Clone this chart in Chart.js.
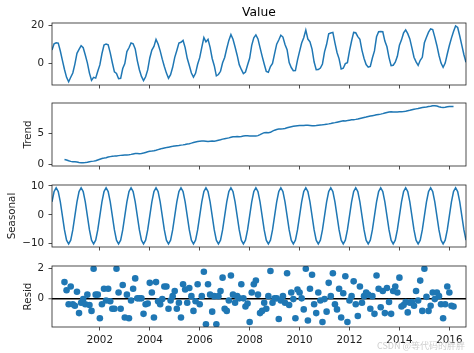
<!DOCTYPE html>
<html>
<head>
<meta charset="utf-8">
<script src="https://cdn.jsdelivr.net/npm/chart.js@4.4.0/dist/chart.umd.min.js"></script>
<style>
html,body{margin:0;padding:0;background:#fff;width:474px;height:353px;overflow:hidden;position:relative;}
canvas{position:absolute;left:0;}
#wm{position:absolute;left:377px;top:339px;font:9px "Noto Sans CJK SC","DejaVu Sans",sans-serif;color:#cfcfcf;white-space:nowrap;}
</style>
</head>
<body>
<canvas id="c1"></canvas>
<canvas id="c2"></canvas>
<canvas id="c3"></canvas>
<canvas id="c4"></canvas>
<div id="wm">CSDN @等代码的胖胖</div>
<script>
// ---------------- data ----------------
// monthly series, first observation = end of Jan 2000 (200 months, to Aug 2016)
const startYear = 2000;
const xTickYears = [2002, 2004, 2006, 2008, 2010, 2012, 2014, 2016];
const valueTicks = [0, 20];
const trendTicks = [0, 5];
const seasonalTicks = [-10, 0, 10];
const residTicks = [0, 2];
const trendStartIndex = 6; // trend / resid start in Jul 2000

const observed = [
  7.0, 10.3, 10.9, 10.7, 6.5, 1.5, -3.34, -7.52, -9.9, -7.5, -5.2, -0.48,
  5.28, 7.33, 9.29, 8.22, 4.35, 0.2, -5.27, -9.15, -7.56, -7.95, -4.27, -0.9,
  5.02, 9.68, 10.25, 9.85, 5.52, 0.23, -4.6, -5.42, -8.27, -8.03, -2.85, -0.18,
  6.22, 8.22, 10.78, 10.35, 7.57, 1.39, -3.5, -7.03, -9.3, -7.25, -3.55, 2.78,
  7.02, 8.93, 12.7, 10.2, 6.55, 2.15, -1.78, -5.27, -8.0, -6.08, -2.17, 3.1,
  6.79, 10.77, 11.13, 12.12, 8.28, 2.61, -1.18, -5.2, -7.4, -5.37, -0.59, 2.97,
  8.4, 13.61, 11.32, 12.68, 8.47, 2.5, -1.33, -6.72, -6.02, -4.3, 0.25, 3.07,
  7.83, 12.15, 15.25, 12.72, 8.65, 4.26, -0.78, -3.32, -5.5, -4.72, -0.97, 2.62,
  9.47, 13.55, 15.1, 12.92, 8.28, 3.75, -0.4, -4.33, -4.82, -1.75, -0.15, 5.15,
  10.12, 12.33, 14.9, 13.92, 9.98, 7.23, 0.33, -2.3, -3.98, -3.92, 1.62, 6.29,
  10.75, 13.55, 17.63, 12.85, 11.41, 7.47, 0.62, -3.5, -3.35, -2.55, -0.42, 6.02,
  10.07, 15.62, 16.08, 16.4, 10.82, 5.7, 2.33, -3.1, -2.68, -0.25, 0.25, 6.62,
  11.82, 16.4, 16.2, 14.17, 12.7, 6.83, 2.5, -0.73, -2.1, -1.67, 2.8, 6.52,
  14.05, 16.75, 16.85, 16.73, 11.78, 8.72, 3.0, -1.32, -1.09, 0.5, 3.66, 9.53,
  12.43, 16.12, 17.68, 15.75, 12.92, 8.2, 3.18, 0.7, -1.18, 1.55, 3.13, 10.87,
  13.86, 16.52, 18.23, 17.9, 13.91, 9.45, 4.25, 0.07, -2.22, 0.05, 4.88, 9.39,
  13.35, 16.85, 19.8, 19.0, 14.5, 9.5, 4.5, 0.5
];

const trend = [
  0.76, 0.68, 0.55, 0.45, 0.40, 0.37,
  0.33, 0.28, 0.24, 0.22, 0.25, 0.30, 0.38, 0.45, 0.49, 0.55, 0.68, 0.80,
  0.92, 0.98, 1.05, 1.15, 1.22, 1.28, 1.30, 1.33, 1.38, 1.42, 1.45, 1.47,
  1.47, 1.52, 1.58, 1.65, 1.72, 1.74, 1.70, 1.72, 1.80, 1.90, 2.00, 2.08,
  2.12, 2.18, 2.25, 2.35, 2.45, 2.55, 2.62, 2.68, 2.75, 2.82, 2.88, 2.95,
  2.99, 3.02, 3.08, 3.12, 3.18, 3.26, 3.32, 3.40, 3.50, 3.58, 3.66, 3.72,
  3.75, 3.76, 3.72, 3.68, 3.72, 3.75, 3.72, 3.78, 3.88, 3.95, 4.05, 4.12,
  4.18, 4.25, 4.35, 4.42, 4.45, 4.46, 4.42, 4.48, 4.55, 4.58, 4.58, 4.57,
  4.57, 4.55, 4.55, 4.62, 4.78, 4.95, 5.10, 5.12, 5.08, 5.15, 5.35, 5.50,
  5.62, 5.68, 5.70, 5.72, 5.78, 5.88, 5.98, 6.05, 6.12, 6.18, 6.22, 6.24,
  6.25, 6.25, 6.28, 6.30, 6.26, 6.22, 6.22, 6.25, 6.30, 6.35, 6.38, 6.42,
  6.47, 6.52, 6.58, 6.65, 6.72, 6.80, 6.88, 6.95, 7.02, 7.00, 7.05, 7.12,
  7.17, 7.20, 7.25, 7.32, 7.40, 7.48, 7.55, 7.62, 7.70, 7.78, 7.85, 7.92,
  8.00, 8.05, 8.10, 8.18, 8.28, 8.37, 8.45, 8.48, 8.46, 8.45, 8.46, 8.48,
  8.48, 8.52, 8.58, 8.65, 8.72, 8.80, 8.88, 8.95, 9.02, 9.10, 9.18, 9.22,
  9.26, 9.32, 9.38, 9.45, 9.46, 9.40, 9.30, 9.22, 9.18, 9.20, 9.28, 9.34,
  9.35, 9.35
];

const seasonal = [
  4.5, 8.05, 9.35, 8.05, 4.5, -0.35, -5.2, -8.75, -10.05, -8.75, -5.2, -0.35,
  4.5, 8.05, 9.35, 8.05, 4.5, -0.35, -5.2, -8.75, -10.05, -8.75, -5.2, -0.35,
  4.5, 8.05, 9.35, 8.05, 4.5, -0.35, -5.2, -8.75, -10.05, -8.75, -5.2, -0.35,
  4.5, 8.05, 9.35, 8.05, 4.5, -0.35, -5.2, -8.75, -10.05, -8.75, -5.2, -0.35,
  4.5, 8.05, 9.35, 8.05, 4.5, -0.35, -5.2, -8.75, -10.05, -8.75, -5.2, -0.35,
  4.5, 8.05, 9.35, 8.05, 4.5, -0.35, -5.2, -8.75, -10.05, -8.75, -5.2, -0.35,
  4.5, 8.05, 9.35, 8.05, 4.5, -0.35, -5.2, -8.75, -10.05, -8.75, -5.2, -0.35,
  4.5, 8.05, 9.35, 8.05, 4.5, -0.35, -5.2, -8.75, -10.05, -8.75, -5.2, -0.35,
  4.5, 8.05, 9.35, 8.05, 4.5, -0.35, -5.2, -8.75, -10.05, -8.75, -5.2, -0.35,
  4.5, 8.05, 9.35, 8.05, 4.5, -0.35, -5.2, -8.75, -10.05, -8.75, -5.2, -0.35,
  4.5, 8.05, 9.35, 8.05, 4.5, -0.35, -5.2, -8.75, -10.05, -8.75, -5.2, -0.35,
  4.5, 8.05, 9.35, 8.05, 4.5, -0.35, -5.2, -8.75, -10.05, -8.75, -5.2, -0.35,
  4.5, 8.05, 9.35, 8.05, 4.5, -0.35, -5.2, -8.75, -10.05, -8.75, -5.2, -0.35,
  4.5, 8.05, 9.35, 8.05, 4.5, -0.35, -5.2, -8.75, -10.05, -8.75, -5.2, -0.35,
  4.5, 8.05, 9.35, 8.05, 4.5, -0.35, -5.2, -8.75, -10.05, -8.75, -5.2, -0.35,
  4.5, 8.05, 9.35, 8.05, 4.5, -0.35, -5.2, -8.75, -10.05, -8.75, -5.2, -0.35,
  4.5, 8.05, 9.35, 8.05, 4.5, -0.35, -5.2, -8.75
];

const resid = [
  1.1, 0.55, -0.4, 0.8, -0.4, -0.5,
  0.45, -1.0, -0.3, -0.05, -0.4, 0.25, -0.45, -0.85, 2.0, 0.25, 0.25, -1.35,
  -0.4, 0.65, -0.15, 0.65, -0.2, -0.7, -0.7, 2.0, 0.4, -0.7, 0.9, -1.3,
  0.25, -1.35, -0.15, 0.65, 1.35, 0, 0, 0, -1.05, -0.4, -0.35, 1.05,
  0.4, -1.3, 1.1, -0.2, -0.4, -0.05, 0.8, 0.8, -0.7, -0.15, 0.15, 0.5,
  -0.7, -0.3, -1.3, 0.95, 0.6, -0.3, 0.7, 0.15, -0.85, -0.2, 0.95, -0.4,
  0.15, 1.8, -1.75, 0.95, 0.25, -0.9, 0.15, -1.75, 0.15, 0.5, 1.4, -0.7,
  -0.85, -0.15, 1.55, 0.25, -0.3, 0.15, 0, 0.95, 0, -0.55, -0.35, -1.6,
  0.4, 0.95, 1.2, 0.25, -1.0, -0.85, -0.3, -0.7, 0.15, 1.85, -0.3, 0,
  0, -1.4, -0.15, 0.15, -0.3, 1.7, -0.45, 0.4, -0.05, -1.35, 0.6, 0.4,
  0, -0.75, 2.0, -1.5, 0.65, 1.6, -0.4, -1.0, 0.4, -0.15, -1.6, -0.05,
  -0.9, 1.05, 0.15, 1.7, -0.4, -0.75, 0.65, -1.3, 0.35, 1.5, -1.6, -0.15,
  0.15, 1.15, -0.4, -1.2, 0.8, -0.3, 0.15, 0.4, 0.25, -0.7, 0.15, -1.05,
  1.55, 0.65, -0.6, 0.5, -1.0, 0.7, -0.25, -1.05, 0.5, 0.8, 0.4, 1.4,
  -0.55, -0.45, -0.25, -0.95, -0.3, -0.25, -0.5, 0.5, -0.15, 1.2, -0.85, 2.0,
  0.1, -0.85, -0.5, 0.4, -0.05, 0.4, 0.15, -0.4, -1.35, -0.4, 0.8, 0.4,
  -0.5, -0.55
];

// ---------------- chart ----------------
const BLUE = '#1f77b4';
const AXC = '#222222';
const FONT = 'DejaVu Sans';
Chart.defaults.font.family = FONT;
Chart.defaults.color = AXC;

// month axis: decimal year of each month end
const monthX = observed.map((_, i) => startYear + (i + 1) / 12);
const xMin = monthX[0];
const xMax = monthX[monthX.length - 1];
const toPts = (vals, off) => vals.map((v, i) => ({ x: monthX[i + off], y: v }));
const minus = v => String(v).replace('-', '\u2212');

const framePlugin = {
  id: 'frame',
  afterDraw(chart) {
    const { ctx, chartArea: a } = chart;
    ctx.save();
    ctx.strokeStyle = AXC;
    ctx.lineWidth = 0.8;
    ctx.strokeRect(a.left, a.top, a.right - a.left, a.bottom - a.top);
    const t = chart.options.plugins.panelTitle;
    if (t && t.text) {
      ctx.fillStyle = '#000';
      ctx.font = '12.3px "' + FONT + '"';
      ctx.textAlign = 'center';
      ctx.textBaseline = 'middle';
      ctx.fillText(t.text, (a.left + a.right) / 2, t.y);
    }
    ctx.restore();
  }
};

function makePanel(cfg) {
  const cv = document.getElementById(cfg.id);
  const h = cfg.padTop + (cfg.bottom - cfg.top) + cfg.bottomSpace;
  cv.width = 474; cv.height = h;
  cv.style.width = '474px'; cv.style.height = h + 'px';
  cv.style.top = (cfg.top - cfg.padTop) + 'px';
  const isScatter = cfg.kind === 'scatter';
  new Chart(cv, {
    type: isScatter ? 'scatter' : 'line',
    data: {
      datasets: [{
        data: cfg.points,
        borderColor: BLUE,
        backgroundColor: BLUE,
        borderWidth: isScatter ? 0 : 1.5,
        pointRadius: isScatter ? 3.3 : 0,
        pointHoverRadius: isScatter ? 3.3 : 0,
        tension: 0,
        showLine: !isScatter
      }]
    },
    options: {
      responsive: false, animation: false, devicePixelRatio: 1,
      layout: { padding: { left: 0, right: 8, top: cfg.padTop, bottom: 0 } },
      plugins: {
        legend: { display: false }, tooltip: { enabled: false }, title: { display: false },
        panelTitle: cfg.title ? { text: cfg.title, y: 12.5 } : {}
      },
      scales: {
        x: {
          type: 'linear', min: xMin, max: xMax,
          afterFit: s => { s.height = cfg.bottomSpace; },
          afterBuildTicks: s => { s.ticks = xTickYears.map(v => ({ value: v })); },
          ticks: { display: !!cfg.showX, font: { size: 10.3 }, color: AXC, padding: 3.5,
                   maxRotation: 0, autoSkip: false, callback: v => String(v) },
          grid: { drawOnChartArea: false, drawTicks: true, tickLength: 3.5, tickColor: AXC, tickWidth: 0.8 },
          border: { display: false }
        },
        y: {
          min: cfg.yMin, max: cfg.yMax,
          afterFit: s => { s.width = 52; },
          afterBuildTicks: s => { s.ticks = cfg.yTicks.map(v => ({ value: v })); },
          ticks: { font: { size: 10.3 }, color: AXC, padding: 4.5, callback: v => minus(v) },
          grid: cfg.zeroLine ? {
            drawOnChartArea: true, drawTicks: true, tickLength: 3.5,
            color: c => (c.tick && c.tick.value === 0) ? '#000' : 'rgba(0,0,0,0)',
            lineWidth: c => (c.tick && c.tick.value === 0) ? 1.5 : 0.8,
            tickColor: AXC, tickWidth: 0.8
          } : { drawOnChartArea: false, drawTicks: true, tickLength: 3.5, tickColor: AXC, tickWidth: 0.8 },
          border: { display: false },
          title: cfg.ylabel ? { display: true, text: cfg.ylabel, font: { size: 10.3 }, color: AXC,
                                padding: { top: cfg.ylabelPad, bottom: 0 } } : { display: false }
        }
      }
    },
    plugins: [framePlugin]
  });
}

makePanel({ id: 'c1', top: 23, bottom: 85, padTop: 23, bottomSpace: 14, title: 'Value',
  points: toPts(observed, 0), yMin: -11.6, yMax: 21.4, yTicks: valueTicks });
makePanel({ id: 'c2', top: 103, bottom: 166, padTop: 14, bottomSpace: 14, ylabel: 'Trend', ylabelPad: 22,
  points: toPts(trend, trendStartIndex), yMin: -0.3, yMax: 9.9, yTicks: trendTicks });
makePanel({ id: 'c3', top: 185, bottom: 247, padTop: 14, bottomSpace: 14, ylabel: 'Seasonal', ylabelPad: 6.5,
  points: toPts(seasonal, 0), yMin: -11.1, yMax: 10.3, yTicks: seasonalTicks });
makePanel({ id: 'c4', top: 266, bottom: 327, padTop: 14, bottomSpace: 26, ylabel: 'Resid', ylabelPad: 22,
  kind: 'scatter', zeroLine: true, showX: true,
  points: toPts(resid, trendStartIndex), yMin: -1.94, yMax: 2.19, yTicks: residTicks });
</script>
</body>
</html>
